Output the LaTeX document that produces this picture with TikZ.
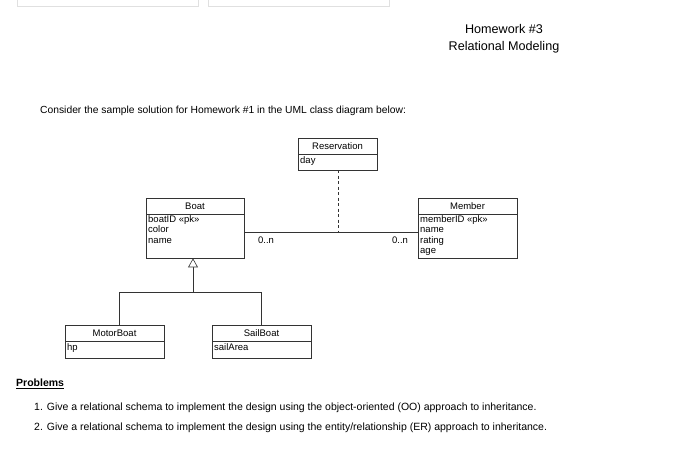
\documentclass[tikz,border=0pt]{standalone}
\usepackage{fontspec}
\setmainfont{Liberation Sans}
\usetikzlibrary{arrows.meta}
\begin{document}
\begin{tikzpicture}[x=1pt,y=-1pt,
  box/.style={draw=black!80,line width=0.6pt},
  ttl/.style={font=\fontsize{9.5}{10}\selectfont,inner sep=0pt},
  attr/.style={font=\fontsize{9.5}{10.3}\selectfont,inner sep=0pt,anchor=north west,align=left},
  txt/.style={font=\fontsize{10.3}{12}\selectfont,inner sep=0pt,anchor=west}]
\useasboundingbox (0,0) rectangle (700,469);
\fill[white] (0,0) rectangle (700,469);
\draw[black!12,line width=0.8pt] (17,-2) rectangle (198,6) (208,-2) rectangle (389,6);
\node[font=\fontsize{12.6}{14}\selectfont,inner sep=0pt] (hw) at (504,29) {Homework \#3};
\node[font=\fontsize{12.6}{14}\selectfont,inner sep=0pt] (rm) at (504,47) {Relational Modeling};
\node[txt] (cons) at (40,111) {Consider the sample solution for Homework \#1 in the UML class diagram below:};
% Reservation
\draw[box] (298,138) rectangle (377,170); \draw[box] (298,154) -- (377,154);
\node[ttl] (res) at (337.5,146) {Reservation};
\node[attr] (resa) at (300,156) {day};
% Boat
\draw[box] (146,198) rectangle (244,258); \draw[box] (146,214) -- (244,214);
\node[ttl] (boat) at (195,206) {Boat};
\node[attr] (boata) at (148,215.5) {boatID «pk»\\color\\name};
% Member
\draw[box] (418,198) rectangle (517,258); \draw[box] (418,214) -- (517,214);
\node[ttl] (mem) at (467.5,206) {Member};
\node[attr] (mema) at (420,215.5) {memberID «pk»\\name\\rating\\age};
% MotorBoat
\draw[box] (65,325) rectangle (164,358); \draw[box] (65,341) -- (164,341);
\node[ttl] (mb) at (114.5,333) {MotorBoat};
\node[attr] (mba) at (67,343) {hp};
% SailBoat
\draw[box] (212,325) rectangle (311,358); \draw[box] (212,341) -- (311,341);
\node[ttl] (sb) at (261.5,333) {SailBoat};
\node[attr] (sba) at (214,343) {sailArea};
% association
\coordinate (mid) at (338,232);
\draw[box] (244,232) -- (418,232);
\draw[box,dash pattern=on 3pt off 2.5pt] (338,170) -- (mid);
\node[ttl] (m1) at (266,240) {0..n};
\node[ttl] (m2) at (400,240) {0..n};
% inheritance
\draw[box] (193,292) -- (193,267);
\draw[box,fill=white] (193,259) -- (188.5,267) -- (197.5,267) -- cycle;
\draw[box] (119,325) -- (119,292) -- (261,292) -- (261,325);
% problems
\node[txt,font=\fontsize{10.5}{12}\selectfont\bfseries] (pr) at (16,384) {\underline{Problems}};
\node[txt,font=\fontsize{10.5}{12}\selectfont] (p1) at (34,408) {1. Give a relational schema to implement the design using the object-oriented (OO) approach to inheritance.};
\node[txt,font=\fontsize{10.5}{12}\selectfont] (p2) at (34,428) {2. Give a relational schema to implement the design using the entity/relationship (ER) approach to inheritance.};
\end{tikzpicture}
\end{document}
